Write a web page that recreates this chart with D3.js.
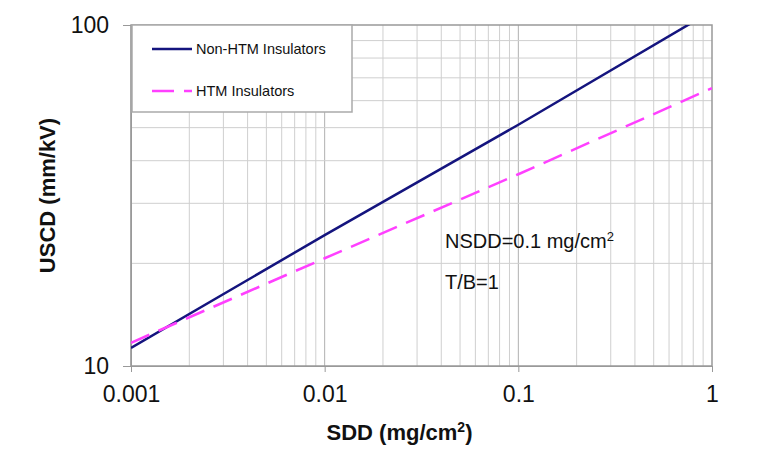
<!DOCTYPE html>
<html>
<head>
<meta charset="utf-8">
<script src="https://cdn.jsdelivr.net/npm/d3@7"></script>
<style>
  body { margin: 0; background: #fff; }
  svg { font-family: "Liberation Sans", Arial, sans-serif; }
</style>
</head>
<body>
<div id="chart"></div>
<script>
// SDD vs USCD, log-log
const sddValues = [0.001, 0.01, 0.1, 1];
const nonHtmValues = [11.3, 24.2, 51, 110];
const htmValues = [11.7, 20.7, 36.5, 65.3];
const xTicks = [0.001, 0.01, 0.1, 1];
const xTickLabels = ["0.001", "0.01", "0.1", "1"];
const yTicks = [10, 100];
const yTickLabels = ["10", "100"];
const seriesNames = ["Non-HTM Insulators", "HTM Insulators"];

const width = 768, height = 459;
const margin = { top: 25, right: 56, bottom: 93, left: 131 };
const plotW = width - margin.left - margin.right;
const plotH = height - margin.top - margin.bottom;

const svg = d3.select("#chart").append("svg")
    .attr("width", width)
    .attr("height", height);

const g = svg.append("g")
    .attr("transform", "translate(" + margin.left + "," + margin.top + ")");

const x = d3.scaleLog().domain([0.001, 1]).range([0, plotW]);
const y = d3.scaleLog().domain([10, 100]).range([plotH, 0]);

// minor grid
var xGrid = [];
for (var e = -3; e < 0; e++) {
    for (var m = 1; m <= 9; m++) xGrid.push(m * Math.pow(10, e));
}
var yGrid = [];
for (var m = 2; m <= 9; m++) yGrid.push(m * 10);

g.append("g").selectAll("line")
    .data(xGrid)
    .enter().append("line")
    .attr("x1", d => x(d)).attr("x2", d => x(d))
    .attr("y1", 0).attr("y2", plotH)
    .attr("stroke", d => xTicks.indexOf(d) >= 0 ? "#b0b0b0" : "#cfcfcf")
    .attr("stroke-width", 1);

g.append("g").selectAll("line")
    .data(yGrid)
    .enter().append("line")
    .attr("x1", 0).attr("x2", plotW)
    .attr("y1", d => y(d)).attr("y2", d => y(d))
    .attr("stroke", "#cfcfcf")
    .attr("stroke-width", 1);

// axes
const xAxis = d3.axisBottom(x)
    .tickValues(xTicks)
    .tickFormat((d, i) => xTickLabels[i])
    .tickSizeInner(6).tickSizeOuter(0).tickPadding(14);
const xg = g.append("g")
    .attr("transform", "translate(0," + plotH + ")")
    .call(xAxis);
xg.select(".domain").attr("stroke", "#999");
xg.selectAll(".tick line").attr("stroke", "#999");
xg.selectAll("text").attr("font-size", "23px").attr("fill", "#111").attr("font-family", null);

const yAxis = d3.axisLeft(y)
    .tickValues(yTicks)
    .tickFormat((d, i) => yTickLabels[i])
    .tickSizeInner(8).tickSizeOuter(0).tickPadding(14);
const yg = g.append("g").call(yAxis);
yg.select(".domain").attr("stroke", "#999");
yg.selectAll(".tick line").attr("stroke", "#999");
yg.selectAll("text").attr("font-size", "23px").attr("fill", "#111").attr("font-family", null);

// frame
g.append("rect")
    .attr("width", plotW).attr("height", plotH)
    .attr("fill", "none").attr("stroke", "#999").attr("stroke-width", 1.5);

// lines
g.append("clipPath").attr("id", "plotClip")
    .append("rect").attr("width", plotW).attr("height", plotH);

const line = d3.line()
    .x(d => x(d[0]))
    .y(d => y(d[1]));

g.append("path")
    .datum(sddValues.map((v, i) => [v, nonHtmValues[i]]))
    .attr("clip-path", "url(#plotClip)")
    .attr("d", line)
    .attr("fill", "none")
    .attr("stroke", "#14147e")
    .attr("stroke-width", 2.5);

g.append("path")
    .datum(sddValues.map((v, i) => [v, htmValues[i]]))
    .attr("clip-path", "url(#plotClip)")
    .attr("d", line)
    .attr("fill", "none")
    .attr("stroke", "#ff40ff")
    .attr("stroke-width", 2.5)
    .attr("stroke-dasharray", "20,10");

// legend
const legend = g.append("g");
legend.append("rect")
    .attr("x", 1).attr("y", 0)
    .attr("width", 220).attr("height", 87)
    .attr("fill", "#fff")
    .attr("stroke", "#aaa").attr("stroke-width", 1.5);

const legendColors = ["#14147e", "#ff40ff"];
const legendDash = [null, "22,10"];
seriesNames.forEach(function (name, i) {
    var ly = 24 + i * 42;
    legend.append("line")
        .attr("x1", 21).attr("x2", 61)
        .attr("y1", ly).attr("y2", ly)
        .attr("stroke", legendColors[i])
        .attr("stroke-width", 2.5)
        .attr("stroke-dasharray", legendDash[i]);
    legend.append("text")
        .attr("x", 65).attr("y", ly + 5)
        .attr("font-size", "14.5px")
        .attr("fill", "#111")
        .text(name);
});

// annotations
const note1 = svg.append("text")
    .attr("x", 445).attr("y", 248)
    .attr("font-size", "20px")
    .attr("fill", "#111")
    .text("NSDD=0.1 mg/cm");
note1.append("tspan").attr("dy", "-7").attr("font-size", "13px").text("2");

svg.append("text")
    .attr("x", 445).attr("y", 289)
    .attr("font-size", "20px")
    .attr("fill", "#111")
    .text("T/B=1");

// axis titles
const xTitle = svg.append("text")
    .attr("x", margin.left + plotW / 2 - 22).attr("y", 440)
    .attr("text-anchor", "middle")
    .attr("font-size", "22px")
    .attr("font-weight", "bold")
    .attr("fill", "#111")
    .text("SDD (mg/cm");
xTitle.append("tspan").attr("dy", "-8").attr("font-size", "14px").text("2");
xTitle.append("tspan").attr("dy", "8").text(")");

svg.append("text")
    .attr("transform", "translate(55," + (margin.top + plotH / 2) + ") rotate(-90)")
    .attr("text-anchor", "middle")
    .attr("font-size", "22px")
    .attr("font-weight", "bold")
    .attr("fill", "#111")
    .text("USCD (mm/kV)");
</script>
</body>
</html>
